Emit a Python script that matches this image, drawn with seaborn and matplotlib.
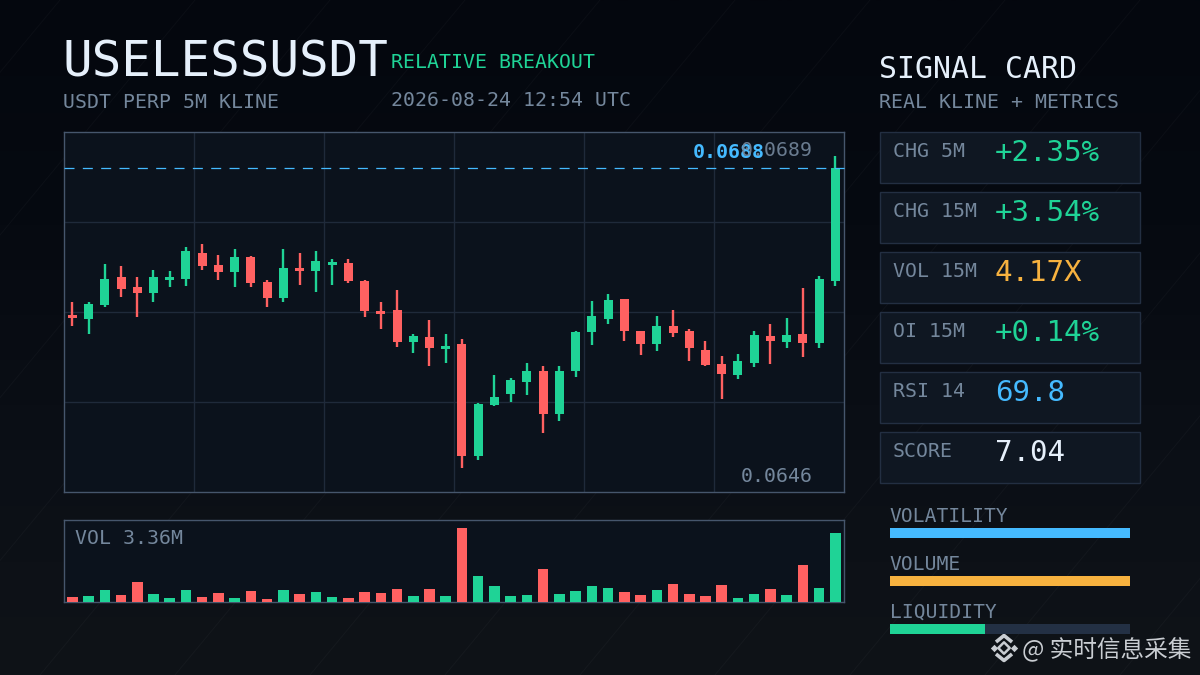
import numpy as np
import pandas as pd
import seaborn as sns
import matplotlib.pyplot as plt
from matplotlib.patches import Rectangle

# Candle values
opens = [0.066709, 0.066654, 0.066846, 0.067232, 0.067095, 0.067012, 0.067191, 0.067205,
         0.067563, 0.067398, 0.067301, 0.067508, 0.067163, 0.066943, 0.067356, 0.067315,
         0.067398, 0.067425, 0.067177, 0.066764, 0.066778, 0.066337, 0.066405, 0.066240,
         0.066309, 0.064765, 0.065468, 0.065620, 0.065785, 0.065937, 0.065344, 0.065937,
         0.066474, 0.066654, 0.066929, 0.066488, 0.066309, 0.066557, 0.066488, 0.066226,
         0.066033, 0.065882, 0.066047, 0.066419, 0.066337, 0.066447, 0.066323, 0.067177]
highs = [0.066888, 0.066888, 0.067412, 0.067384, 0.067232, 0.067329, 0.067315, 0.067646,
         0.067687, 0.067536, 0.067618, 0.067522, 0.067191, 0.067618, 0.067563, 0.067591,
         0.067480, 0.067480, 0.067191, 0.066888, 0.067053, 0.066447, 0.066640, 0.066447,
         0.066378, 0.065496, 0.065882, 0.065840, 0.066047, 0.066006, 0.066006, 0.066488,
         0.066902, 0.066998, 0.066929, 0.066488, 0.066695, 0.066778, 0.066516, 0.066350,
         0.066144, 0.066171, 0.066488, 0.066585, 0.066667, 0.067081, 0.067246, 0.068900]
lows = [0.066557, 0.066447, 0.066819, 0.066957, 0.066681, 0.066888, 0.067095, 0.067108,
        0.067329, 0.067191, 0.067095, 0.067095, 0.066819, 0.066888, 0.067122, 0.067026,
        0.067122, 0.067150, 0.066681, 0.066516, 0.066268, 0.066185, 0.066006, 0.066047,
        0.064600, 0.064710, 0.065454, 0.065510, 0.065606, 0.065082, 0.065248, 0.065854,
        0.066295, 0.066585, 0.066350, 0.066157, 0.066212, 0.066405, 0.066075, 0.066006,
        0.065551, 0.065827, 0.065992, 0.066033, 0.066254, 0.066130, 0.066254, 0.067108]
closes = [0.066667, 0.066860, 0.067205, 0.067067, 0.067012, 0.067232, 0.067232, 0.067591,
          0.067384, 0.067301, 0.067508, 0.067150, 0.066943, 0.067356, 0.067315, 0.067453,
          0.067439, 0.067177, 0.066764, 0.066722, 0.066337, 0.066419, 0.066254, 0.066281,
          0.064765, 0.065482, 0.065578, 0.065813, 0.065937, 0.065344, 0.065937, 0.066474,
          0.066695, 0.066915, 0.066488, 0.066309, 0.066557, 0.066461, 0.066254, 0.066020,
          0.065896, 0.066075, 0.066433, 0.066350, 0.066433, 0.066323, 0.067205, 0.068735]
volumes = [0.21, 0.26, 0.56, 0.31, 0.95, 0.36, 0.16, 0.56, 0.21, 0.41, 0.16, 0.51,
           0.11, 0.56, 0.36, 0.46, 0.21, 0.16, 0.46, 0.41, 0.61, 0.26, 0.61, 0.26,
           3.61, 1.25, 0.75, 0.26, 0.31, 1.59, 0.36, 0.51, 0.75, 0.66, 0.46, 0.31,
           0.56, 0.85, 0.36, 0.26, 0.80, 0.16, 0.36, 0.61, 0.31, 1.79, 0.66, 3.36]

# Right hand card
card_labels = ['CHG 5M', 'CHG 15M', 'VOL 15M', 'OI 15M', 'RSI 14', 'SCORE']
card_values = ['+2.35%', '+3.54%', '4.17X', '+0.14%', '69.8', '7.04']
meter_labels = ['VOLATILITY', 'VOLUME', 'LIQUIDITY']
meter_values = [1.0, 1.0, 0.395]

GREEN = '#1fd396'
RED = '#ff6161'
BLUE = '#45baff'
ORANGE = '#f7b23f'
WHITE = '#e6f0fb'
GRAY = '#74879c'
card_colors = [GREEN, GREEN, ORANGE, GREEN, BLUE, WHITE]
meter_colors = [BLUE, ORANGE, GREEN]

MONO = 'DejaVu Sans Mono'
W, H = 1200, 675

sns.set_theme(style='dark')
plt.rcParams['font.family'] = [MONO, 'DejaVu Sans']


# axes placed by pixel box, y counted from the top like in the picture
def pixel_axes(fig, x0, y0, x1, y1, zorder):
    ax = fig.add_axes([x0 / W, 1 - y1 / H, (x1 - x0) / W, (y1 - y0) / H])
    ax.set_zorder(zorder)
    return ax


fig = plt.figure(figsize=(12, 6.75), dpi=100)

# background gradient with faint diagonals
bg = pixel_axes(fig, 0, 0, W, H, 0)
bg.imshow(np.linspace(0, 1, 256).reshape(-1, 1),
          cmap=sns.blend_palette(['#04070e', '#060a11', '#0b0f16', '#0f1318'], as_cmap=True),
          extent=(0, W, H, 0), aspect='auto')
for start in range(-500, 1500, 135):
    bg.plot([start, start + 560], [H, 0], color='#ffffff', alpha=0.028, lw=0.8)
bg.set_xlim(0, W)
bg.set_ylim(H, 0)
bg.axis('off')

# cards and all loose text live on one pixel overlay
over = pixel_axes(fig, 0, 0, W, H, 1)
over.set_xlim(0, W)
over.set_ylim(H, 0)
over.axis('off')
over.patch.set_alpha(0)

over.text(63, 76.7, 'USELESSUSDT', color=WHITE, fontsize=35.5, family=MONO)
over.text(391, 68, 'RELATIVE BREAKOUT', color=GREEN, fontsize=14.3, family=MONO)
over.text(63, 107.5, 'USDT PERP 5M KLINE', color=GRAY, fontsize=14.3, family=MONO)
over.text(391, 106, '2026-08-24 12:54 UTC', color=GRAY, fontsize=14.3, family=MONO)
over.text(879, 78, 'SIGNAL CARD', color=WHITE, fontsize=21.5, family=MONO)
over.text(879, 107.5, 'REAL KLINE + METRICS', color=GRAY, fontsize=14.3, family=MONO)

for i, (lab, val, col) in enumerate(zip(card_labels, card_values, card_colors)):
    top = 132 + 60 * i
    over.add_patch(Rectangle((880, top), 259.5, 51, facecolor='#0f1722', edgecolor='#232f42', lw=1))
    over.text(893, top + 25, lab, color=GRAY, fontsize=14.3, family=MONO)
    over.text(995, top + 29, val, color=col, fontsize=21, family=MONO)

for lab, base in zip(meter_labels, [521.7, 570, 618]):
    over.text(889.5, base, lab, color=GRAY, fontsize=14.1, family=MONO)

# watermark, logo is two chevrons, two side diamonds and a hollow centre
over.text(1022, 657, '@ 实时信息采集', color='#c9cdd2', fontsize=17,
          family=['Noto Sans CJK SC', 'DejaVu Sans'])
over.scatter([994, 1014], [648, 648], marker='D', s=14, color='#c9cdd2', lw=0)
over.scatter([1004], [648], marker='D', s=34, facecolor='none', edgecolor='#c9cdd2', lw=1.8)
over.plot([996, 1004, 1012], [642, 635.5, 642], color='#c9cdd2', lw=2.6, solid_capstyle='butt')
over.plot([996, 1004, 1012], [654, 660.5, 654], color='#c9cdd2', lw=2.6, solid_capstyle='butt')

# candles
df = pd.DataFrame({'open': opens, 'high': highs, 'low': lows, 'close': closes, 'vol': volumes})
df['idx'] = np.arange(len(df))
df['dir'] = np.where(df['close'] >= df['open'], 'up', 'down')
palette = {'up': GREEN, 'down': RED}
colors = df['dir'].map(palette)

ax = pixel_axes(fig, 64.2, 132.2, 843.5, 491.5, 2)
ax.set_facecolor('#0b121c')
ax.vlines(df['idx'], df['low'], df['high'], colors=colors, lw=1.7, zorder=3)
ax.bar(df['idx'], (df['close'] - df['open']).abs(), bottom=df[['open', 'close']].min(axis=1),
       width=9 / 16.25, color=colors, lw=0, zorder=4)

pad = (df['high'].max() - df['low'].min()) * 24 / 312
ymin, ymax = df['low'].min() - pad, df['high'].max() + pad
ax.set_xlim(-0.5, 47.5)
ax.set_ylim(ymin, ymax)
ax.set_xticks(np.arange(7.5, 47, 8))
ax.set_yticks(np.linspace(ymin, ymax, 5)[1:-1])
ax.tick_params(length=0, labelbottom=False, labelleft=False)
ax.grid(True, color='#1f2a3a', lw=1)
ax.set_axisbelow(True)
for s in ax.spines.values():
    s.set_color('#46566c')
    s.set_linewidth(1)

# last price line sticks out a little past the frame
ax.plot([-0.5, 47.75], [closes[-1], closes[-1]], color=BLUE, lw=0.9, dashes=(8, 6.67),
        clip_on=False, zorder=5)

over2 = pixel_axes(fig, 0, 0, W, H, 3)
over2.set_xlim(0, W)
over2.set_ylim(H, 0)
over2.axis('off')
over2.patch.set_alpha(0)
over2.text(764.5, 158, '0.0688', color=BLUE, fontsize=14.3, weight='bold', ha='right', family=MONO)
over2.text(813, 156, '0.0689', color=GRAY, fontsize=14.3, ha='right', family=MONO, alpha=0.9)
over2.text(813, 482, '0.0646', color=GRAY, fontsize=14.3, ha='right', family=MONO)

# volume panel
ax_vol = pixel_axes(fig, 64.2, 520.2, 843.5, 601.5, 2)
ax_vol.set_facecolor('#0b121c')
sns.barplot(data=df, x='idx', y='vol', hue='dir', palette=palette, dodge=False, native_scale=True,
            width=10.5 / 16.25, saturation=1, lw=0, legend=False, ax=ax_vol, zorder=3)
ax_vol.set_xlim(-0.5, 47.5)
ax_vol.set_ylim(0, 3.98)
ax_vol.set_xlabel('')
ax_vol.set_ylabel('')
ax_vol.set_xticks([])
ax_vol.set_yticks([])
ax_vol.grid(False)
for s in ax_vol.spines.values():
    s.set_color('#46566c')
    s.set_linewidth(1)
over2.text(75, 544, 'VOL 3.36M', color=GRAY, fontsize=14.3, family=MONO)

# strength meters
ax_m = pixel_axes(fig, 890, 528, 1130, 634, 2)
ax_m.patch.set_alpha(0)
ax_m.barh(range(3), [1, 1, 1], height=10 / 48, color='#233044', lw=0)
ax_m.barh(range(3), meter_values, height=10 / 48, color=meter_colors, lw=0)
ax_m.set_xlim(0, 1)
ax_m.set_ylim(2 + 5 / 48, -5 / 48)
ax_m.axis('off')

fig.savefig('out.png', dpi=100)
